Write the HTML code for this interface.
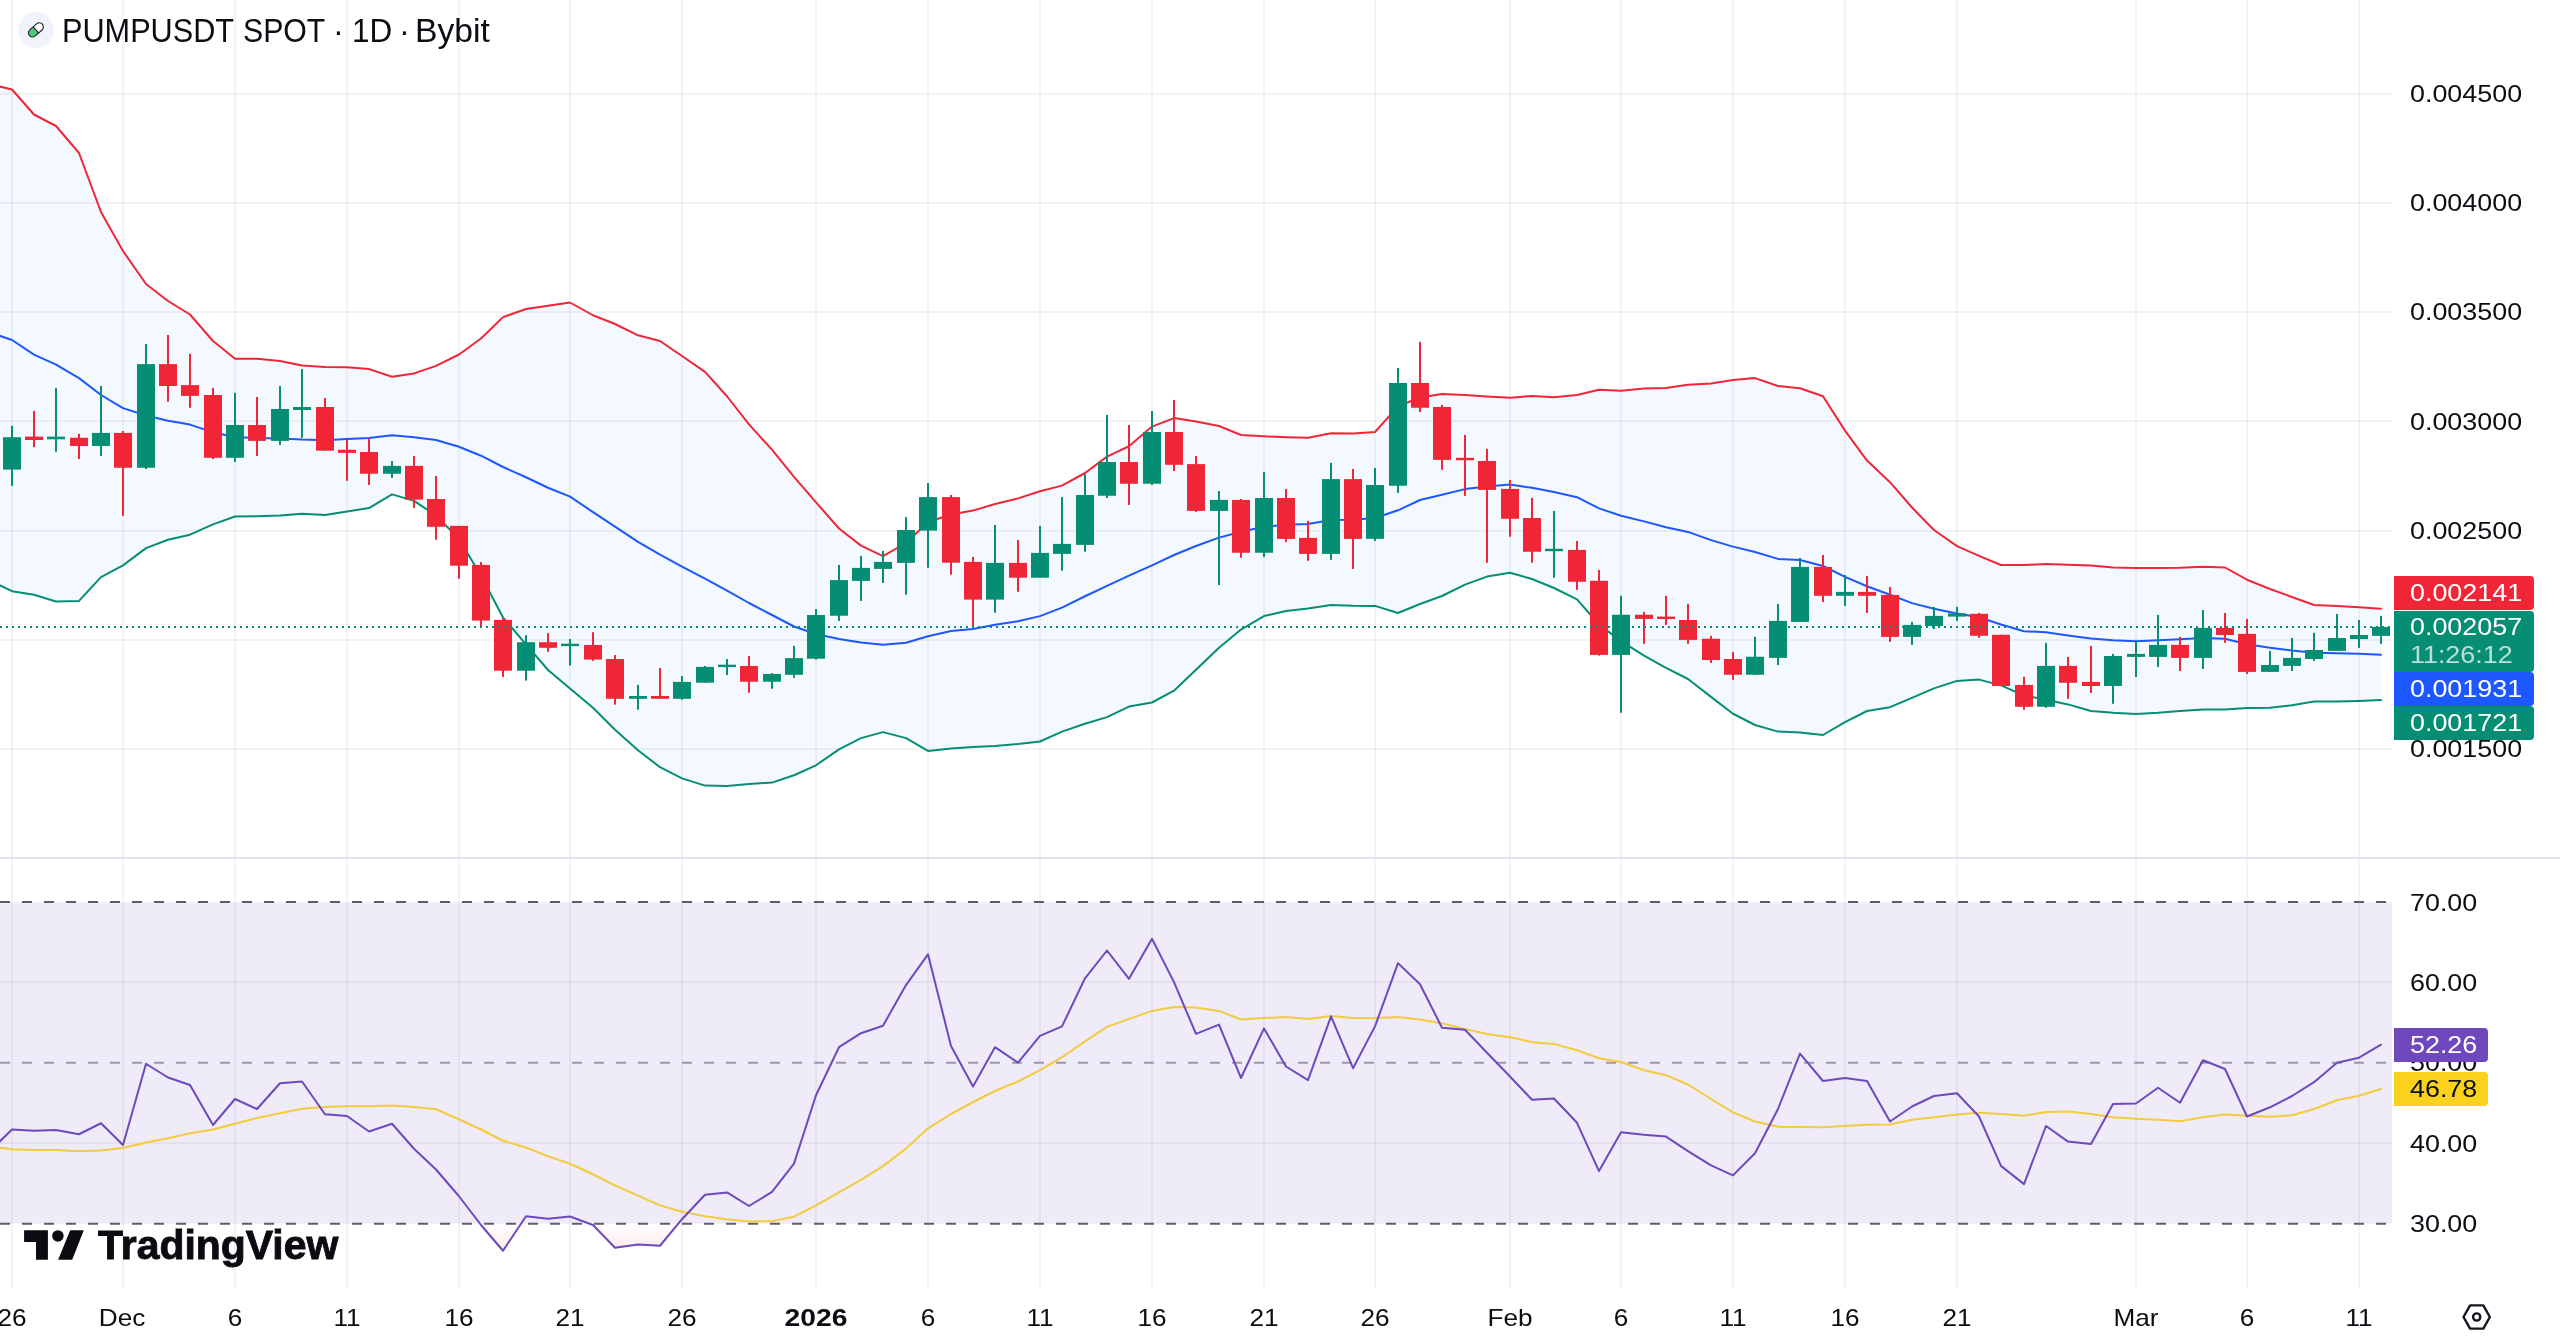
<!DOCTYPE html><html><head><meta charset="utf-8"><title>PUMPUSDT</title><style>
html,body{margin:0;padding:0;background:#fff}
body{width:2560px;height:1338px;position:relative;overflow:hidden;font-family:"Liberation Sans",sans-serif;color:#0b0d13}
.t{position:absolute;white-space:nowrap;line-height:1}
.ax{font-size:24px;left:2410.3px;color:#0b0d13;transform-origin:0 0;transform:scaleX(1.12)}
.tm{font-size:24px;top:1306px;transform:translateX(-50%) scaleX(1.09);color:#0b0d13}
.tm b{display:inline-block;transform:scaleX(1.08)}
.lb{position:absolute;left:2394px;width:140px;border-radius:0 4px 4px 0;color:#fff;font-size:24px;box-sizing:border-box;white-space:nowrap}
.lb span{position:absolute;left:16.3px;transform-origin:0 0;transform:scaleX(1.12);line-height:1}

</style></head><body>
<svg width="2560" height="1338" viewBox="0 0 2560 1338" style="position:absolute;left:0;top:0">
<defs>
<linearGradient id="os" gradientUnits="userSpaceOnUse" x1="0" y1="1223.7" x2="0" y2="1465"><stop offset="0" stop-color="#F23645" stop-opacity="0"/><stop offset="1" stop-color="#F23645" stop-opacity="1"/></linearGradient>
<clipPath id="below30"><rect x="0" y="1223.7" width="2392" height="80"/></clipPath>
<clipPath id="plot"><rect x="0" y="0" width="2392" height="1290"/></clipPath>
</defs>
<rect x="11" y="0" width="2" height="1288" fill="rgba(30,32,44,0.056)"/>
<rect x="122" y="0" width="2" height="1288" fill="rgba(30,32,44,0.056)"/>
<rect x="234" y="0" width="2" height="1288" fill="rgba(30,32,44,0.056)"/>
<rect x="346" y="0" width="2" height="1288" fill="rgba(30,32,44,0.056)"/>
<rect x="458" y="0" width="2" height="1288" fill="rgba(30,32,44,0.056)"/>
<rect x="569" y="0" width="2" height="1288" fill="rgba(30,32,44,0.056)"/>
<rect x="681" y="0" width="2" height="1288" fill="rgba(30,32,44,0.056)"/>
<rect x="815" y="0" width="2" height="1288" fill="rgba(30,32,44,0.056)"/>
<rect x="927" y="0" width="2" height="1288" fill="rgba(30,32,44,0.056)"/>
<rect x="1039" y="0" width="2" height="1288" fill="rgba(30,32,44,0.056)"/>
<rect x="1151" y="0" width="2" height="1288" fill="rgba(30,32,44,0.056)"/>
<rect x="1263" y="0" width="2" height="1288" fill="rgba(30,32,44,0.056)"/>
<rect x="1374" y="0" width="2" height="1288" fill="rgba(30,32,44,0.056)"/>
<rect x="1509" y="0" width="2" height="1288" fill="rgba(30,32,44,0.056)"/>
<rect x="1620" y="0" width="2" height="1288" fill="rgba(30,32,44,0.056)"/>
<rect x="1732" y="0" width="2" height="1288" fill="rgba(30,32,44,0.056)"/>
<rect x="1844" y="0" width="2" height="1288" fill="rgba(30,32,44,0.056)"/>
<rect x="1956" y="0" width="2" height="1288" fill="rgba(30,32,44,0.056)"/>
<rect x="2135" y="0" width="2" height="1288" fill="rgba(30,32,44,0.056)"/>
<rect x="2246" y="0" width="2" height="1288" fill="rgba(30,32,44,0.056)"/>
<rect x="2358" y="0" width="2" height="1288" fill="rgba(30,32,44,0.056)"/>
<rect x="0" y="93" width="2392" height="2" fill="rgba(30,32,44,0.056)"/>
<rect x="0" y="202" width="2392" height="2" fill="rgba(30,32,44,0.056)"/>
<rect x="0" y="311" width="2392" height="2" fill="rgba(30,32,44,0.056)"/>
<rect x="0" y="420" width="2392" height="2" fill="rgba(30,32,44,0.056)"/>
<rect x="0" y="530" width="2392" height="2" fill="rgba(30,32,44,0.056)"/>
<rect x="0" y="639" width="2392" height="2" fill="rgba(30,32,44,0.056)"/>
<rect x="0" y="748" width="2392" height="2" fill="rgba(30,32,44,0.056)"/>
<rect x="0" y="981" width="2392" height="2" fill="rgba(30,32,44,0.056)"/>
<rect x="0" y="1142" width="2392" height="2" fill="rgba(30,32,44,0.056)"/>
<rect x="0" y="857" width="2560" height="2" fill="#E0E3EB"/>
<g clip-path="url(#plot)">
<polygon points="-11,84 12,89.5 34,114.5 56,126 79,153 101,212 123,251 146,284 168,301 190,314.5 213,341 235,358.8 257,358.8 280,360.9 302,365.6 325,366.9 347,367.25 369,369.1 392,376.8 414,373.4 436,365.9 459,354.5 481,338.5 503,317.1 526,309 548,305.7 570,302.5 593,315.25 615,324 638,335.3 660,341 682,356 705,371.9 727,396.25 749,424.4 772,449.7 794,476.9 816,502.3 839,528.5 861,545.6 883,556.2 906,543 928,522 951,514.5 973,510.6 995,504 1018,498.4 1040,491.25 1062,485.6 1085,473 1107,456.6 1129,446.25 1152,426.6 1174,418.1 1196,421.5 1219,426 1241,435 1264,436.3 1286,437.25 1308,437.8 1331,433.2 1353,433.4 1375,432 1398,406.3 1420,397.5 1442,394 1465,395 1487,396.5 1510,397.8 1532,395.9 1554,397.25 1577,395 1599,389.75 1621,390.7 1644,388.4 1666,387.9 1688,384.7 1711,383.4 1733,380 1755,378.1 1778,386 1800,388.2 1823,396.3 1845,430.6 1867,460.6 1890,482.2 1912,507.5 1934,530 1957,546.1 1979,555.8 2001,565 2024,565 2046,564 2068,564.7 2091,565.6 2113,567.5 2136,568 2158,567.9 2180,567.7 2203,566.8 2225,567.5 2247,579.7 2270,589 2292,597 2314,605 2337,606 2359,607.25 2381,608.75 2381,700 2359,701 2337,701.6 2314,701.6 2292,705.3 2270,707.75 2247,708.1 2225,709.4 2203,709.4 2180,711 2158,712.8 2136,714.1 2113,712.8 2091,711 2068,704.4 2046,699.8 2024,695.4 2001,685.4 1979,679.6 1957,680.9 1934,688.4 1912,697.8 1890,707.2 1867,711 1845,722.2 1823,735 1800,732.5 1778,731.6 1755,725 1733,713.75 1711,696.9 1688,679 1666,667.8 1644,655.6 1621,641.1 1599,624.5 1577,599.4 1554,588 1532,579 1510,572.7 1487,576.6 1465,584.6 1442,596 1420,604 1398,613 1375,605.9 1353,605.8 1331,604.9 1308,608.6 1286,611.1 1264,616.1 1241,629.6 1219,647.75 1196,669.7 1174,690.7 1152,702.5 1129,706.6 1107,717.1 1085,723.7 1062,731.6 1040,741.5 1018,744.1 995,746 973,747.1 951,748.4 928,750.9 906,738.1 883,732.1 861,738.1 839,749.4 816,765.3 794,775.25 772,782.6 749,784.1 727,785.9 705,785.6 682,778.4 660,767.2 638,750.3 615,729.7 593,707.8 570,688.6 548,670 526,644.4 503,617.5 481,575.8 459,538.9 436,515.5 414,500.9 392,494.4 369,508.1 347,511.6 325,515 302,513.7 280,515.6 257,516.3 235,516.5 213,524.4 190,534.7 168,539.8 146,548.1 123,565.4 101,577.1 79,600.9 56,601.5 34,594.75 12,591.2 -11,580" fill="rgba(33,150,243,0.055)"/>
<polyline points="-11,332 12,340 34,354.7 56,364.6 79,378.1 101,395 123,408.1 146,415.5 168,420.7 190,424.6 213,432.4 235,437 257,438 280,438.4 302,439.6 325,440.2 347,439.1 369,438.1 392,435.3 414,437.2 436,440 459,446.8 481,455.7 503,467 526,477.25 548,487.75 570,496.6 593,512.1 615,526.6 638,541.9 660,554.6 682,566.6 705,578.6 727,590.6 749,603 772,615 794,626.5 816,634 839,639.1 861,642.5 883,644.75 906,642.8 928,636.3 951,631 973,629 995,624.8 1018,621.2 1040,616.1 1062,607.6 1085,596.25 1107,585.9 1129,575.6 1152,565.3 1174,555 1196,546 1219,537.6 1241,531.7 1264,526.7 1286,524.7 1308,524 1331,520 1353,519.7 1375,518 1398,510.3 1420,500 1442,494.75 1465,489.1 1487,486.5 1510,484.6 1532,487.8 1554,492.1 1577,497.2 1599,508.4 1621,515.7 1644,521.4 1666,527.2 1688,531.9 1711,540.1 1733,546.6 1755,552 1778,558.9 1800,560 1823,566 1845,576.9 1867,586.25 1890,594.7 1912,603.1 1934,608.75 1957,613.4 1979,617.2 2001,624.5 2024,631.25 2046,632.2 2068,635.4 2091,638.4 2113,640.25 2136,641.2 2158,640.25 2180,639.3 2203,637.9 2225,638.75 2247,644.3 2270,647.75 2292,650.6 2314,652.8 2337,653.2 2359,653.75 2381,654.7" fill="none" stroke="#1D57FF" stroke-width="2" stroke-linejoin="round" stroke-linecap="round"/>
<polyline points="-11,84 12,89.5 34,114.5 56,126 79,153 101,212 123,251 146,284 168,301 190,314.5 213,341 235,358.8 257,358.8 280,360.9 302,365.6 325,366.9 347,367.25 369,369.1 392,376.8 414,373.4 436,365.9 459,354.5 481,338.5 503,317.1 526,309 548,305.7 570,302.5 593,315.25 615,324 638,335.3 660,341 682,356 705,371.9 727,396.25 749,424.4 772,449.7 794,476.9 816,502.3 839,528.5 861,545.6 883,556.2 906,543 928,522 951,514.5 973,510.6 995,504 1018,498.4 1040,491.25 1062,485.6 1085,473 1107,456.6 1129,446.25 1152,426.6 1174,418.1 1196,421.5 1219,426 1241,435 1264,436.3 1286,437.25 1308,437.8 1331,433.2 1353,433.4 1375,432 1398,406.3 1420,397.5 1442,394 1465,395 1487,396.5 1510,397.8 1532,395.9 1554,397.25 1577,395 1599,389.75 1621,390.7 1644,388.4 1666,387.9 1688,384.7 1711,383.4 1733,380 1755,378.1 1778,386 1800,388.2 1823,396.3 1845,430.6 1867,460.6 1890,482.2 1912,507.5 1934,530 1957,546.1 1979,555.8 2001,565 2024,565 2046,564 2068,564.7 2091,565.6 2113,567.5 2136,568 2158,567.9 2180,567.7 2203,566.8 2225,567.5 2247,579.7 2270,589 2292,597 2314,605 2337,606 2359,607.25 2381,608.75" fill="none" stroke="#F02637" stroke-width="2" stroke-linejoin="round" stroke-linecap="round"/>
<polyline points="-11,580 12,591.2 34,594.75 56,601.5 79,600.9 101,577.1 123,565.4 146,548.1 168,539.8 190,534.7 213,524.4 235,516.5 257,516.3 280,515.6 302,513.7 325,515 347,511.6 369,508.1 392,494.4 414,500.9 436,515.5 459,538.9 481,575.8 503,617.5 526,644.4 548,670 570,688.6 593,707.8 615,729.7 638,750.3 660,767.2 682,778.4 705,785.6 727,785.9 749,784.1 772,782.6 794,775.25 816,765.3 839,749.4 861,738.1 883,732.1 906,738.1 928,750.9 951,748.4 973,747.1 995,746 1018,744.1 1040,741.5 1062,731.6 1085,723.7 1107,717.1 1129,706.6 1152,702.5 1174,690.7 1196,669.7 1219,647.75 1241,629.6 1264,616.1 1286,611.1 1308,608.6 1331,604.9 1353,605.8 1375,605.9 1398,613 1420,604 1442,596 1465,584.6 1487,576.6 1510,572.7 1532,579 1554,588 1577,599.4 1599,624.5 1621,641.1 1644,655.6 1666,667.8 1688,679 1711,696.9 1733,713.75 1755,725 1778,731.6 1800,732.5 1823,735 1845,722.2 1867,711 1890,707.2 1912,697.8 1934,688.4 1957,680.9 1979,679.6 2001,685.4 2024,695.4 2046,699.8 2068,704.4 2091,711 2113,712.8 2136,714.1 2158,712.8 2180,711 2203,709.4 2225,709.4 2247,708.1 2270,707.75 2292,705.3 2314,701.6 2337,701.6 2359,701 2381,700" fill="none" stroke="#068E74" stroke-width="2" stroke-linejoin="round" stroke-linecap="round"/>
<rect x="11" y="425.9" width="2" height="60" fill="#068E74"/>
<rect x="3" y="437.2" width="18" height="32.4" fill="#068E74"/>
<rect x="33" y="410.9" width="2" height="36.2" fill="#F02637"/>
<rect x="25" y="436.6" width="18" height="3.4" fill="#F02637"/>
<rect x="55" y="387.9" width="2" height="63.9" fill="#068E74"/>
<rect x="47" y="436.6" width="18" height="2.7" fill="#068E74"/>
<rect x="78" y="433.8" width="2" height="25.3" fill="#F02637"/>
<rect x="70" y="437.75" width="18" height="8.25" fill="#F02637"/>
<rect x="100" y="386" width="2" height="69.9" fill="#068E74"/>
<rect x="92" y="432.9" width="18" height="13.1" fill="#068E74"/>
<rect x="122" y="431" width="2" height="84.9" fill="#F02637"/>
<rect x="114" y="432.9" width="18" height="34.85" fill="#F02637"/>
<rect x="145" y="344" width="2" height="125" fill="#068E74"/>
<rect x="137" y="364.1" width="18" height="103.65" fill="#068E74"/>
<rect x="167" y="335" width="2" height="66.9" fill="#F02637"/>
<rect x="159" y="364.1" width="18" height="21.9" fill="#F02637"/>
<rect x="189" y="353.9" width="2" height="53.85" fill="#F02637"/>
<rect x="181" y="385.1" width="18" height="10.8" fill="#F02637"/>
<rect x="212" y="387.9" width="2" height="71.2" fill="#F02637"/>
<rect x="204" y="395" width="18" height="62.8" fill="#F02637"/>
<rect x="234" y="392.9" width="2" height="69" fill="#068E74"/>
<rect x="226" y="425" width="18" height="32.8" fill="#068E74"/>
<rect x="256" y="396.9" width="2" height="59" fill="#F02637"/>
<rect x="248" y="425" width="18" height="15.9" fill="#F02637"/>
<rect x="279" y="386" width="2" height="58.9" fill="#068E74"/>
<rect x="271" y="409" width="18" height="31.9" fill="#068E74"/>
<rect x="301" y="369.1" width="2" height="68.65" fill="#068E74"/>
<rect x="293" y="407" width="18" height="3" fill="#068E74"/>
<rect x="324" y="398" width="2" height="52.7" fill="#F02637"/>
<rect x="316" y="407" width="18" height="43.7" fill="#F02637"/>
<rect x="346" y="440" width="2" height="40.9" fill="#F02637"/>
<rect x="338" y="449.75" width="18" height="3.15" fill="#F02637"/>
<rect x="368" y="438.1" width="2" height="46.9" fill="#F02637"/>
<rect x="360" y="452" width="18" height="21.75" fill="#F02637"/>
<rect x="391" y="461" width="2" height="16.9" fill="#068E74"/>
<rect x="383" y="465.9" width="18" height="7.85" fill="#068E74"/>
<rect x="413" y="455.9" width="2" height="52" fill="#F02637"/>
<rect x="405" y="465.9" width="18" height="33.7" fill="#F02637"/>
<rect x="435" y="476" width="2" height="63.75" fill="#F02637"/>
<rect x="427" y="499" width="18" height="27.8" fill="#F02637"/>
<rect x="458" y="525.9" width="2" height="52.9" fill="#F02637"/>
<rect x="450" y="525.9" width="18" height="39.8" fill="#F02637"/>
<rect x="480" y="562" width="2" height="65.2" fill="#F02637"/>
<rect x="472" y="564.9" width="18" height="55.7" fill="#F02637"/>
<rect x="502" y="618.2" width="2" height="58.7" fill="#F02637"/>
<rect x="494" y="619.9" width="18" height="50.8" fill="#F02637"/>
<rect x="525" y="635.25" width="2" height="45.35" fill="#068E74"/>
<rect x="517" y="642.2" width="18" height="28.5" fill="#068E74"/>
<rect x="547" y="633.2" width="2" height="18.55" fill="#F02637"/>
<rect x="539" y="642.2" width="18" height="5.6" fill="#F02637"/>
<rect x="569" y="639" width="2" height="26.6" fill="#068E74"/>
<rect x="561" y="643.7" width="18" height="2.4" fill="#068E74"/>
<rect x="592" y="632.25" width="2" height="28.65" fill="#F02637"/>
<rect x="584" y="645" width="18" height="14.6" fill="#F02637"/>
<rect x="614" y="655.1" width="2" height="49.5" fill="#F02637"/>
<rect x="606" y="659" width="18" height="39.8" fill="#F02637"/>
<rect x="637" y="684.9" width="2" height="24.8" fill="#068E74"/>
<rect x="629" y="696" width="18" height="2.8" fill="#068E74"/>
<rect x="659" y="668" width="2" height="30.8" fill="#F02637"/>
<rect x="651" y="696" width="18" height="2.8" fill="#F02637"/>
<rect x="681" y="676.1" width="2" height="23.65" fill="#068E74"/>
<rect x="673" y="681.9" width="18" height="16.9" fill="#068E74"/>
<rect x="704" y="666" width="2" height="16.7" fill="#068E74"/>
<rect x="696" y="666.9" width="18" height="15.8" fill="#068E74"/>
<rect x="726" y="659" width="2" height="16" fill="#068E74"/>
<rect x="718" y="664.7" width="18" height="2.4" fill="#068E74"/>
<rect x="748" y="656" width="2" height="36.8" fill="#F02637"/>
<rect x="740" y="666" width="18" height="15.75" fill="#F02637"/>
<rect x="771" y="673.1" width="2" height="15.6" fill="#068E74"/>
<rect x="763" y="674" width="18" height="7.75" fill="#068E74"/>
<rect x="793" y="645.9" width="2" height="31.9" fill="#068E74"/>
<rect x="785" y="658.1" width="18" height="16.7" fill="#068E74"/>
<rect x="815" y="609" width="2" height="50.6" fill="#068E74"/>
<rect x="807" y="615" width="18" height="43.7" fill="#068E74"/>
<rect x="838" y="564.9" width="2" height="56.1" fill="#068E74"/>
<rect x="830" y="580.1" width="18" height="35.65" fill="#068E74"/>
<rect x="860" y="555.9" width="2" height="45" fill="#068E74"/>
<rect x="852" y="567.9" width="18" height="13" fill="#068E74"/>
<rect x="882" y="550.9" width="2" height="32" fill="#068E74"/>
<rect x="874" y="561.9" width="18" height="7" fill="#068E74"/>
<rect x="905" y="517.1" width="2" height="77.65" fill="#068E74"/>
<rect x="897" y="530" width="18" height="32.9" fill="#068E74"/>
<rect x="927" y="483" width="2" height="84.75" fill="#068E74"/>
<rect x="919" y="497.1" width="18" height="33.5" fill="#068E74"/>
<rect x="950" y="495" width="2" height="79.7" fill="#F02637"/>
<rect x="942" y="497.1" width="18" height="65.6" fill="#F02637"/>
<rect x="972" y="556.9" width="2" height="70.3" fill="#F02637"/>
<rect x="964" y="561.9" width="18" height="37.7" fill="#F02637"/>
<rect x="994" y="525" width="2" height="87.75" fill="#068E74"/>
<rect x="986" y="562.9" width="18" height="36.7" fill="#068E74"/>
<rect x="1017" y="540" width="2" height="51.75" fill="#F02637"/>
<rect x="1009" y="562.9" width="18" height="14.8" fill="#F02637"/>
<rect x="1039" y="525.9" width="2" height="51.8" fill="#068E74"/>
<rect x="1031" y="552.9" width="18" height="24.8" fill="#068E74"/>
<rect x="1061" y="497.1" width="2" height="73.65" fill="#068E74"/>
<rect x="1053" y="543.9" width="18" height="10" fill="#068E74"/>
<rect x="1084" y="474.2" width="2" height="77.6" fill="#068E74"/>
<rect x="1076" y="495" width="18" height="49.9" fill="#068E74"/>
<rect x="1106" y="414.9" width="2" height="83.1" fill="#068E74"/>
<rect x="1098" y="462" width="18" height="33.75" fill="#068E74"/>
<rect x="1128" y="425.1" width="2" height="79.8" fill="#F02637"/>
<rect x="1120" y="462" width="18" height="21.75" fill="#F02637"/>
<rect x="1151" y="411" width="2" height="73.9" fill="#068E74"/>
<rect x="1143" y="432" width="18" height="51.75" fill="#068E74"/>
<rect x="1173" y="399.9" width="2" height="71.1" fill="#F02637"/>
<rect x="1165" y="432" width="18" height="32.8" fill="#F02637"/>
<rect x="1195" y="456" width="2" height="55.9" fill="#F02637"/>
<rect x="1187" y="464.1" width="18" height="46.8" fill="#F02637"/>
<rect x="1218" y="491.1" width="2" height="93.9" fill="#068E74"/>
<rect x="1210" y="499.9" width="18" height="11" fill="#068E74"/>
<rect x="1240" y="499" width="2" height="58.8" fill="#F02637"/>
<rect x="1232" y="499.9" width="18" height="52.85" fill="#F02637"/>
<rect x="1263" y="471.9" width="2" height="85" fill="#068E74"/>
<rect x="1255" y="498" width="18" height="54.75" fill="#068E74"/>
<rect x="1285" y="489" width="2" height="52.9" fill="#F02637"/>
<rect x="1277" y="498" width="18" height="40.9" fill="#F02637"/>
<rect x="1307" y="520.9" width="2" height="39.9" fill="#F02637"/>
<rect x="1299" y="537.9" width="18" height="16" fill="#F02637"/>
<rect x="1330" y="462.9" width="2" height="97" fill="#068E74"/>
<rect x="1322" y="479.1" width="18" height="74.8" fill="#068E74"/>
<rect x="1352" y="468.9" width="2" height="100" fill="#F02637"/>
<rect x="1344" y="479.1" width="18" height="59.8" fill="#F02637"/>
<rect x="1374" y="467.9" width="2" height="73" fill="#068E74"/>
<rect x="1366" y="485" width="18" height="53.8" fill="#068E74"/>
<rect x="1397" y="368" width="2" height="124.9" fill="#068E74"/>
<rect x="1389" y="383" width="18" height="102.75" fill="#068E74"/>
<rect x="1419" y="341.9" width="2" height="70" fill="#F02637"/>
<rect x="1411" y="383" width="18" height="24.75" fill="#F02637"/>
<rect x="1441" y="404.9" width="2" height="64.9" fill="#F02637"/>
<rect x="1433" y="407" width="18" height="52.9" fill="#F02637"/>
<rect x="1464" y="434.9" width="2" height="61" fill="#F02637"/>
<rect x="1456" y="457.8" width="18" height="2.45" fill="#F02637"/>
<rect x="1486" y="448.8" width="2" height="114" fill="#F02637"/>
<rect x="1478" y="461" width="18" height="28.9" fill="#F02637"/>
<rect x="1509" y="479.9" width="2" height="56.85" fill="#F02637"/>
<rect x="1501" y="488.9" width="18" height="29.85" fill="#F02637"/>
<rect x="1531" y="497.9" width="2" height="64.9" fill="#F02637"/>
<rect x="1523" y="518" width="18" height="33.75" fill="#F02637"/>
<rect x="1553" y="510.9" width="2" height="66.9" fill="#068E74"/>
<rect x="1545" y="548.75" width="18" height="2.45" fill="#068E74"/>
<rect x="1576" y="540.9" width="2" height="48.9" fill="#F02637"/>
<rect x="1568" y="549.9" width="18" height="31.85" fill="#F02637"/>
<rect x="1598" y="569.9" width="2" height="85.7" fill="#F02637"/>
<rect x="1590" y="580.8" width="18" height="74.1" fill="#F02637"/>
<rect x="1620" y="595.8" width="2" height="117" fill="#068E74"/>
<rect x="1612" y="614.75" width="18" height="40.15" fill="#068E74"/>
<rect x="1643" y="611.9" width="2" height="31.9" fill="#F02637"/>
<rect x="1635" y="614.75" width="18" height="4.15" fill="#F02637"/>
<rect x="1665" y="595.8" width="2" height="29.1" fill="#F02637"/>
<rect x="1657" y="616.6" width="18" height="2.4" fill="#F02637"/>
<rect x="1687" y="603.9" width="2" height="39.9" fill="#F02637"/>
<rect x="1679" y="620" width="18" height="19.9" fill="#F02637"/>
<rect x="1710" y="635.9" width="2" height="27" fill="#F02637"/>
<rect x="1702" y="638.75" width="18" height="21.25" fill="#F02637"/>
<rect x="1732" y="651.9" width="2" height="27.9" fill="#F02637"/>
<rect x="1724" y="659" width="18" height="15.75" fill="#F02637"/>
<rect x="1754" y="636.9" width="2" height="37.85" fill="#068E74"/>
<rect x="1746" y="656.75" width="18" height="18" fill="#068E74"/>
<rect x="1777" y="603.9" width="2" height="61.1" fill="#068E74"/>
<rect x="1769" y="620.9" width="18" height="37" fill="#068E74"/>
<rect x="1799" y="557.9" width="2" height="64" fill="#068E74"/>
<rect x="1791" y="566.9" width="18" height="55" fill="#068E74"/>
<rect x="1822" y="554.9" width="2" height="47.1" fill="#F02637"/>
<rect x="1814" y="566.9" width="18" height="28.9" fill="#F02637"/>
<rect x="1844" y="575" width="2" height="30.9" fill="#068E74"/>
<rect x="1836" y="591.9" width="18" height="3.9" fill="#068E74"/>
<rect x="1866" y="575.9" width="2" height="37" fill="#F02637"/>
<rect x="1858" y="591.9" width="18" height="3.9" fill="#F02637"/>
<rect x="1889" y="587" width="2" height="54.9" fill="#F02637"/>
<rect x="1881" y="594.9" width="18" height="42" fill="#F02637"/>
<rect x="1911" y="621.9" width="2" height="23" fill="#068E74"/>
<rect x="1903" y="624.9" width="18" height="12" fill="#068E74"/>
<rect x="1933" y="606.9" width="2" height="22.1" fill="#068E74"/>
<rect x="1925" y="615.9" width="18" height="10.1" fill="#068E74"/>
<rect x="1956" y="606.9" width="2" height="14" fill="#068E74"/>
<rect x="1948" y="613.4" width="18" height="3.2" fill="#068E74"/>
<rect x="1978" y="612.9" width="2" height="24.9" fill="#F02637"/>
<rect x="1970" y="613.8" width="18" height="21.95" fill="#F02637"/>
<rect x="2000" y="634.8" width="2" height="51.2" fill="#F02637"/>
<rect x="1992" y="634.8" width="18" height="51.2" fill="#F02637"/>
<rect x="2023" y="676.8" width="2" height="33" fill="#F02637"/>
<rect x="2015" y="684.9" width="18" height="21.9" fill="#F02637"/>
<rect x="2045" y="642.9" width="2" height="64.85" fill="#068E74"/>
<rect x="2037" y="665.9" width="18" height="40.9" fill="#068E74"/>
<rect x="2067" y="656.9" width="2" height="41.85" fill="#F02637"/>
<rect x="2059" y="665.9" width="18" height="16.9" fill="#F02637"/>
<rect x="2090" y="645.9" width="2" height="47" fill="#F02637"/>
<rect x="2082" y="681.9" width="18" height="4.1" fill="#F02637"/>
<rect x="2112" y="653.9" width="2" height="49.9" fill="#068E74"/>
<rect x="2104" y="656" width="18" height="30" fill="#068E74"/>
<rect x="2135" y="639.9" width="2" height="37.1" fill="#068E74"/>
<rect x="2127" y="653.9" width="18" height="3" fill="#068E74"/>
<rect x="2157" y="614.9" width="2" height="52" fill="#068E74"/>
<rect x="2149" y="644.9" width="18" height="12" fill="#068E74"/>
<rect x="2179" y="636.9" width="2" height="34.1" fill="#F02637"/>
<rect x="2171" y="644.9" width="18" height="13" fill="#F02637"/>
<rect x="2202" y="610" width="2" height="58.9" fill="#068E74"/>
<rect x="2194" y="627.9" width="18" height="30" fill="#068E74"/>
<rect x="2224" y="612.9" width="2" height="30" fill="#F02637"/>
<rect x="2216" y="627.9" width="18" height="7.1" fill="#F02637"/>
<rect x="2246" y="618.9" width="2" height="55.1" fill="#F02637"/>
<rect x="2238" y="633.9" width="18" height="38" fill="#F02637"/>
<rect x="2269" y="650.9" width="2" height="21" fill="#068E74"/>
<rect x="2261" y="665" width="18" height="6.9" fill="#068E74"/>
<rect x="2291" y="638" width="2" height="33" fill="#068E74"/>
<rect x="2283" y="657.9" width="18" height="8" fill="#068E74"/>
<rect x="2313" y="632.9" width="2" height="28" fill="#068E74"/>
<rect x="2305" y="650" width="18" height="9" fill="#068E74"/>
<rect x="2336" y="614" width="2" height="36.9" fill="#068E74"/>
<rect x="2328" y="638" width="18" height="12.9" fill="#068E74"/>
<rect x="2358" y="620" width="2" height="27.9" fill="#068E74"/>
<rect x="2350" y="635" width="18" height="4.1" fill="#068E74"/>
<rect x="2380" y="615.9" width="2" height="28.1" fill="#068E74"/>
<rect x="2372" y="626.9" width="18" height="9" fill="#068E74"/>
<line x1="0" y1="627" x2="2392" y2="627" stroke="#068E74" stroke-width="2" stroke-dasharray="2 4"/>
<rect x="0" y="902" width="2392" height="321.7" fill="rgba(126,87,194,0.12)"/>
<polygon clip-path="url(#below30)" points="-11,1223.7 -11,1152 12,1129.5 34,1130.75 56,1130 79,1134.25 101,1123.25 123,1145 146,1063.75 168,1077.5 190,1085 213,1125 235,1099 257,1109 280,1083.25 302,1081.5 325,1114.25 347,1116 369,1131.5 392,1123.75 414,1148.75 436,1169.5 459,1196.25 481,1225 503,1250.75 526,1216.25 548,1218.75 570,1216.5 593,1225 615,1247.75 638,1244.5 660,1245.75 682,1219.2 705,1194.7 727,1192.4 749,1206 772,1191.9 794,1163.6 816,1095.25 839,1047.2 861,1033.2 883,1025.7 906,985.1 928,954.3 951,1045.9 973,1086.5 995,1047.2 1018,1062.7 1040,1035.9 1062,1026.4 1085,978.3 1107,950.5 1129,978.8 1152,938.8 1174,982.1 1196,1033.9 1219,1024.6 1241,1078 1264,1028.4 1286,1066.5 1308,1080.2 1331,1016.4 1353,1068.2 1375,1026.4 1398,963.1 1420,984.3 1442,1027.7 1465,1029.7 1487,1052.7 1510,1076.5 1532,1099.8 1554,1098.5 1577,1122.8 1599,1171.1 1621,1132.3 1644,1134.8 1666,1136.6 1688,1151.1 1711,1165.4 1733,1175.4 1755,1153.3 1778,1109 1800,1053.6 1823,1081 1845,1078 1867,1081 1890,1121.5 1912,1106.5 1934,1096 1957,1093.25 1979,1116.5 2001,1165.9 2024,1184.1 2046,1126 2068,1141.6 2091,1144.1 2113,1104 2136,1103.5 2158,1087.7 2180,1102.8 2203,1060.2 2225,1069 2247,1116.5 2270,1107.3 2292,1096 2314,1082.2 2337,1062.7 2359,1057.7 2381,1044.7 2381,1223.7" fill="url(#os)"/>
<line x1="0" y1="902" x2="2392" y2="902" stroke="#5D5C68" stroke-width="2" stroke-dasharray="10 12"/>
<line x1="0" y1="1062.7" x2="2392" y2="1062.7" stroke="#9C97AE" stroke-width="2" stroke-dasharray="10 12"/>
<line x1="0" y1="1223.7" x2="2392" y2="1223.7" stroke="#5F5E69" stroke-width="2" stroke-dasharray="10 12"/>
<polyline points="-11,1146.5 12,1149.25 34,1150 56,1150 79,1151.25 101,1150.5 123,1148 146,1142.5 168,1138.25 190,1133.25 213,1129.5 235,1123.75 257,1118 280,1113.25 302,1108.75 325,1107 347,1106.25 369,1106.25 392,1105.5 414,1107 436,1109.25 459,1119.25 481,1129.5 503,1140.75 526,1147.5 548,1156.25 570,1163.75 593,1174.25 615,1185.5 638,1195.6 660,1205.4 682,1211.7 705,1216.2 727,1219.2 749,1221.4 772,1221.2 794,1216.7 816,1205.4 839,1192.4 861,1179.9 883,1166.1 906,1148.6 928,1128.3 951,1114 973,1102 995,1091 1018,1081.5 1040,1070.2 1062,1057.2 1085,1041.4 1107,1026.9 1129,1018.9 1152,1010.9 1174,1006.9 1196,1007.6 1219,1010.9 1241,1019.5 1264,1018.1 1286,1016.9 1308,1019.1 1331,1015.9 1353,1018.1 1375,1018.1 1398,1017.1 1420,1019.4 1442,1023.4 1465,1028.9 1487,1033.9 1510,1037.2 1532,1042.2 1554,1043.9 1577,1050.2 1599,1058.2 1621,1062 1644,1070.2 1666,1075.2 1688,1084.5 1711,1099 1733,1112.3 1755,1121.5 1778,1126.8 1800,1126.9 1823,1127.3 1845,1125.9 1867,1124.8 1890,1124.5 1912,1119.8 1934,1117.3 1957,1114.5 1979,1112.8 2001,1114 2024,1115.8 2046,1112 2068,1111.5 2091,1114 2113,1117.3 2136,1118.8 2158,1119.8 2180,1121.3 2203,1117.3 2225,1114.5 2247,1115.8 2270,1116.8 2292,1115.3 2314,1109 2337,1100.3 2359,1095.75 2381,1089" fill="none" stroke="#F3CB3E" stroke-width="2" stroke-linejoin="round" stroke-linecap="round"/>
<polyline points="-11,1152 12,1129.5 34,1130.75 56,1130 79,1134.25 101,1123.25 123,1145 146,1063.75 168,1077.5 190,1085 213,1125 235,1099 257,1109 280,1083.25 302,1081.5 325,1114.25 347,1116 369,1131.5 392,1123.75 414,1148.75 436,1169.5 459,1196.25 481,1225 503,1250.75 526,1216.25 548,1218.75 570,1216.5 593,1225 615,1247.75 638,1244.5 660,1245.75 682,1219.2 705,1194.7 727,1192.4 749,1206 772,1191.9 794,1163.6 816,1095.25 839,1047.2 861,1033.2 883,1025.7 906,985.1 928,954.3 951,1045.9 973,1086.5 995,1047.2 1018,1062.7 1040,1035.9 1062,1026.4 1085,978.3 1107,950.5 1129,978.8 1152,938.8 1174,982.1 1196,1033.9 1219,1024.6 1241,1078 1264,1028.4 1286,1066.5 1308,1080.2 1331,1016.4 1353,1068.2 1375,1026.4 1398,963.1 1420,984.3 1442,1027.7 1465,1029.7 1487,1052.7 1510,1076.5 1532,1099.8 1554,1098.5 1577,1122.8 1599,1171.1 1621,1132.3 1644,1134.8 1666,1136.6 1688,1151.1 1711,1165.4 1733,1175.4 1755,1153.3 1778,1109 1800,1053.6 1823,1081 1845,1078 1867,1081 1890,1121.5 1912,1106.5 1934,1096 1957,1093.25 1979,1116.5 2001,1165.9 2024,1184.1 2046,1126 2068,1141.6 2091,1144.1 2113,1104 2136,1103.5 2158,1087.7 2180,1102.8 2203,1060.2 2225,1069 2247,1116.5 2270,1107.3 2292,1096 2314,1082.2 2337,1062.7 2359,1057.7 2381,1044.7" fill="none" stroke="#6E49BE" stroke-width="2" stroke-linejoin="round" stroke-linecap="round"/>
</g>
<g transform="translate(2476.7,1317)" fill="none" stroke="#131722" stroke-width="2.4" stroke-linejoin="round"><polygon points="-13.2,0 -6.6,-11.6 6.6,-11.6 13.2,0 6.6,11.6 -6.6,11.6"/><circle r="3.6"/></g>
</svg>
<div id="ov" style="position:absolute;left:0;top:0;width:2560px;height:1338px;will-change:transform">
<div style="position:absolute;left:18px;top:12px;width:36px;height:36px;border-radius:50%;background:#F0F3FA"></div>
<svg style="position:absolute;left:18px;top:12px" width="36" height="36" viewBox="0 0 36 36"><g transform="translate(17.9,17.9) rotate(-41.5)"><rect x="-8.6" y="-4.1" width="17.2" height="8.2" rx="4.1" fill="#fff"/><path d="M0,-4.1 H-4.5 A4.1,4.1 0 0 0 -4.5,4.1 H0 Z" fill="#52C67C"/><rect x="-8.6" y="-4.1" width="17.2" height="8.2" rx="4.1" fill="none" stroke="#16181d" stroke-width="1.05"/><line x1="0" y1="-4.1" x2="0" y2="4.1" stroke="#16181d" stroke-width="1.05"/></g></svg>
<div class="t tw" style="left:62.07px;top:15px;font-size:32.5px;transform-origin:0 0;transform:scaleX(0.9433)">PUMPUSDT</div>
<div class="t tw" style="left:243.14px;top:15px;font-size:32.5px;transform-origin:0 0;transform:scaleX(0.9302)">SPOT</div>
<div class="t tw" style="left:333px;top:15px;font-size:32.5px;transform-origin:0 0;transform:scaleX(1.0000)">·</div>
<div class="t tw" style="left:351.82px;top:15px;font-size:32.5px;transform-origin:0 0;transform:scaleX(0.9671)">1D</div>
<div class="t tw" style="left:399px;top:15px;font-size:32.5px;transform-origin:0 0;transform:scaleX(1.0000)">·</div>
<div class="t tw" style="left:414.89px;top:15px;font-size:32.5px;transform-origin:0 0;transform:scaleX(1.0362)">Bybit</div>
<div class="t ax" style="top:82.2px">0.004500</div>
<div class="t ax" style="top:191.3px">0.004000</div>
<div class="t ax" style="top:300.4px">0.003500</div>
<div class="t ax" style="top:409.5px">0.003000</div>
<div class="t ax" style="top:518.6px">0.002500</div>
<div class="t ax" style="top:736.8px">0.001500</div>
<div class="t ax" style="top:890.5px">70.00</div>
<div class="t ax" style="top:970.9px">60.00</div>
<div class="t ax" style="top:1051.4px">50.00</div>
<div class="t ax" style="top:1131.6px">40.00</div>
<div class="t ax" style="top:1212.3px">30.00</div>
<div class="lb" style="top:576px;height:33.8px;width:140px;background:#F02637;color:#fff"><span style="top:5.2px">0.002141</span></div>
<div class="lb" style="top:610.6px;height:61.2px;background:#068E74"><span style="top:4.3px">0.002057</span><span style="top:32.5px;color:rgba(255,255,255,0.72)">11:26:12</span></div>
<div class="lb" style="top:672.4px;height:33.5px;width:140px;background:#1D57FF;color:#fff"><span style="top:5.05px">0.001931</span></div>
<div class="lb" style="top:706.4px;height:33.2px;width:140px;background:#068E74;color:#fff"><span style="top:4.9px">0.001721</span></div>
<div class="lb" style="top:1028px;height:33.8px;width:94px;background:#7048BE;color:#fff"><span style="top:5.2px">52.26</span></div>
<div class="lb" style="top:1072px;height:33.8px;width:94px;background:#FAD21E;color:#0c0e15"><span style="top:5.2px">46.78</span></div>
<div class="t tm" style="left:12px">26</div>
<div class="t tm" style="left:121.6px">Dec</div>
<div class="t tm" style="left:235px">6</div>
<div class="t tm" style="left:347px">11</div>
<div class="t tm" style="left:459px">16</div>
<div class="t tm" style="left:570px">21</div>
<div class="t tm" style="left:682px">26</div>
<div class="t tm" style="left:816px"><b>2026</b></div>
<div class="t tm" style="left:928px">6</div>
<div class="t tm" style="left:1040px">11</div>
<div class="t tm" style="left:1152px">16</div>
<div class="t tm" style="left:1264px">21</div>
<div class="t tm" style="left:1375px">26</div>
<div class="t tm" style="left:1510px">Feb</div>
<div class="t tm" style="left:1621px">6</div>
<div class="t tm" style="left:1733px">11</div>
<div class="t tm" style="left:1845px">16</div>
<div class="t tm" style="left:1957px">21</div>
<div class="t tm" style="left:2136px">Mar</div>
<div class="t tm" style="left:2247px">6</div>
<div class="t tm" style="left:2359px">11</div>
<svg style="position:absolute;left:0;top:1220px" width="100" height="50" viewBox="0 1220 100 50"><path d="M24.1 1230.3H47.9V1259.8H36V1241.9H24.1Z M70.2 1230.3H83.8L72.2 1259.8H58.1Z" fill="#0B0C11"/><circle cx="57.9" cy="1235.9" r="5.75" fill="#0B0C11"/></svg>
<div class="t" id="tv" style="left:98.2px;top:1225.4px;font-size:41px;font-weight:bold;color:#0B0C11;-webkit-text-stroke:0.9px #0B0C11;transform-origin:0 0;transform:scaleX(0.998)">TradingView</div>
</div>
</body></html>
